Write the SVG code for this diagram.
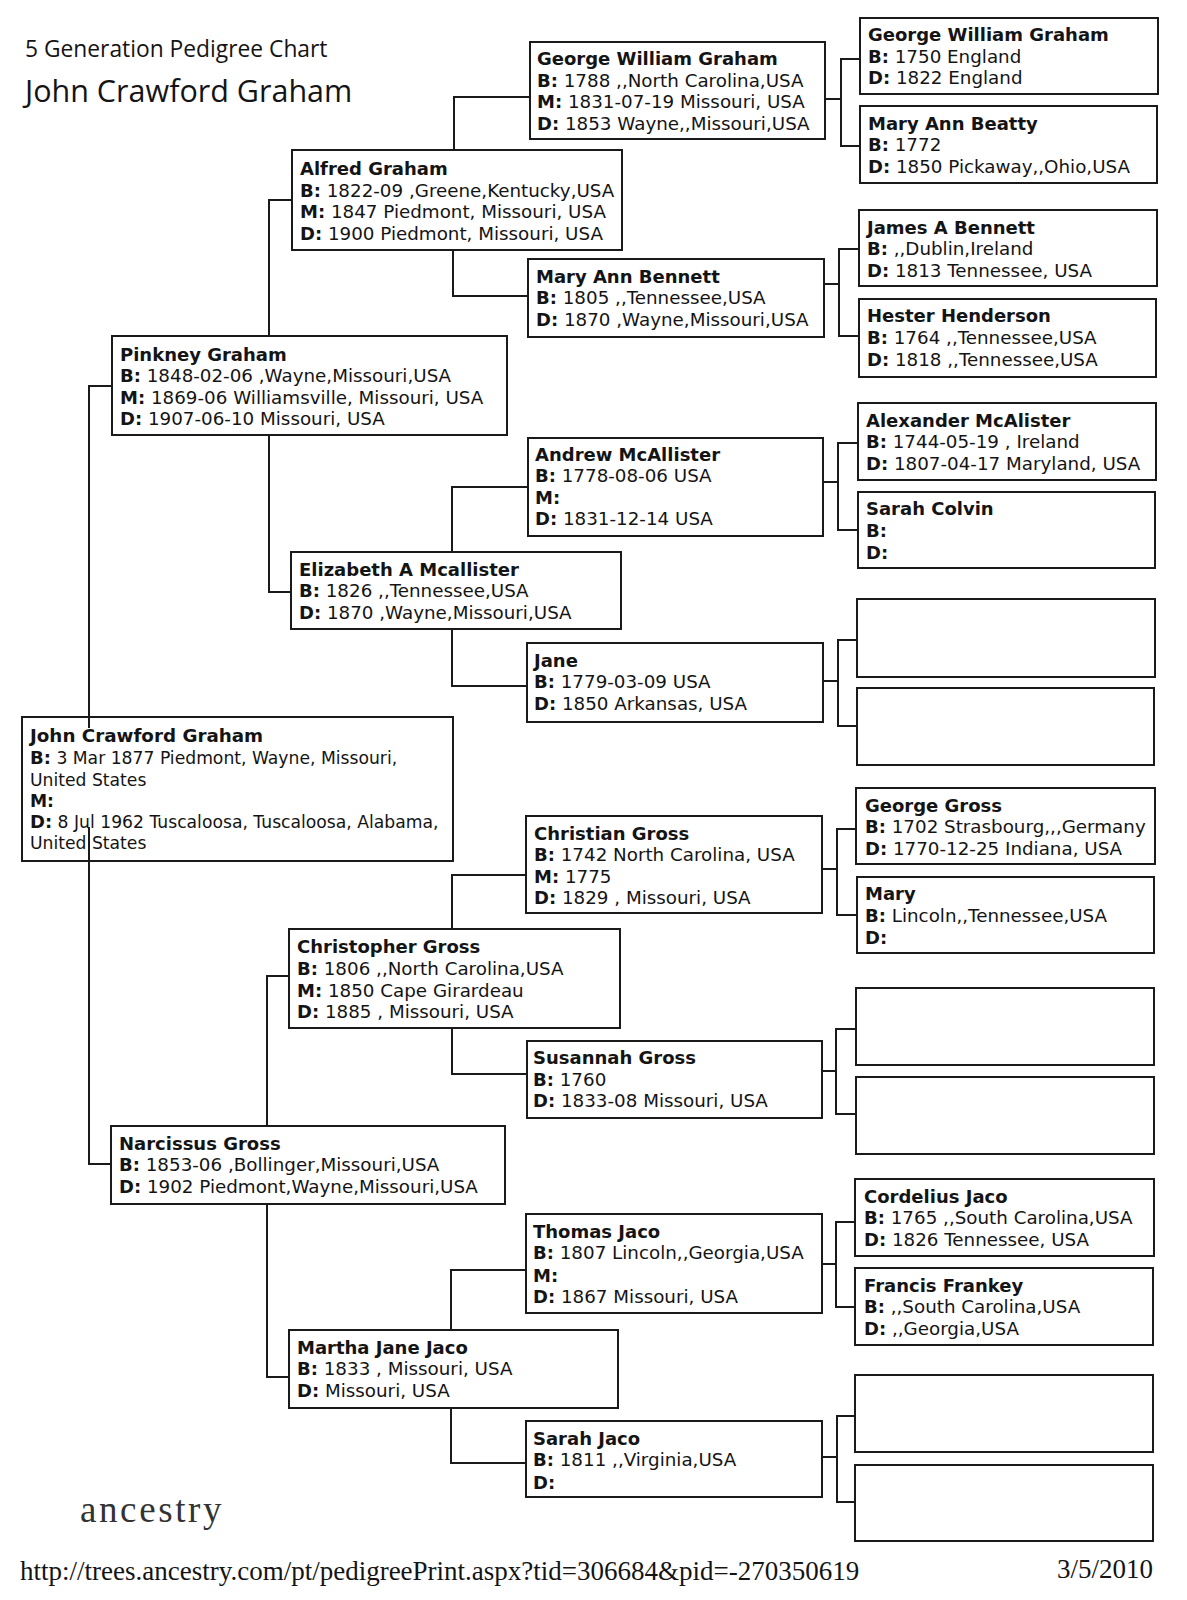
<svg xmlns="http://www.w3.org/2000/svg" width="1187" height="1600" viewBox="0 0 1187 1600">
<style>
text{font-family:"DejaVu Sans",Verdana,sans-serif;font-size:18.3px;fill:#141414}
.n{font-weight:bold;font-size:18px}
.l{font-weight:bold;font-size:18px}
#p1 text{font-size:17.2px}
#p1 .n{font-size:18.3px}
.h{font-family:"Open Sans","Noto Sans",sans-serif}
.s{font-family:"Liberation Serif",serif}
rect{fill:#fff;stroke:#1a1a1a;stroke-width:2}
#connectors path{fill:none;stroke:#1a1a1a;stroke-width:2}
</style>
<rect x="0" y="0" width="1187" height="1600" style="fill:#fff;stroke:none"/>
<text class="h" x="25" y="57" style="font-size:22.8px">5 Generation Pedigree Chart</text>
<text class="h" x="25" y="102" style="font-size:30.5px">John Crawford Graham</text>

<g id="p1"><rect x="22" y="717" width="431" height="144"/><text class="n" x="30" y="742">John Crawford Graham</text><text x="30" y="764"><tspan class="l">B:</tspan> 3 Mar 1877 Piedmont, Wayne, Missouri,</text><text x="30" y="786">United States</text><text x="30" y="807" class="l">M:</text><text x="30" y="828"><tspan class="l">D:</tspan> 8 Jul 1962 Tuscaloosa, Tuscaloosa, Alabama,</text><text x="30" y="849">United States</text></g>

<g id="p2"><rect x="112" y="336" width="395" height="99"/><text class="n" x="120" y="361">Pinkney Graham</text><text x="120" y="382"><tspan class="l">B:</tspan> 1848-02-06 ,Wayne,Missouri,USA</text><text x="120" y="404"><tspan class="l">M:</tspan> 1869-06 Williamsville, Missouri, USA</text><text x="120" y="425"><tspan class="l">D:</tspan> 1907-06-10 Missouri, USA</text></g>
<g id="p3"><rect x="111" y="1126" width="394" height="78"/><text class="n" x="119" y="1150">Narcissus Gross</text><text x="119" y="1171"><tspan class="l">B:</tspan> 1853-06 ,Bollinger,Missouri,USA</text><text x="119" y="1193"><tspan class="l">D:</tspan> 1902 Piedmont,Wayne,Missouri,USA</text></g>

<g id="p4"><rect x="292" y="150" width="330" height="100"/><text class="n" x="300" y="175">Alfred Graham</text><text x="300" y="197"><tspan class="l">B:</tspan> 1822-09 ,Greene,Kentucky,USA</text><text x="300" y="218"><tspan class="l">M:</tspan> 1847 Piedmont, Missouri, USA</text><text x="300" y="240"><tspan class="l">D:</tspan> 1900 Piedmont, Missouri, USA</text></g>
<g id="p5"><rect x="291" y="552" width="330" height="77"/><text class="n" x="299" y="576">Elizabeth A Mcallister</text><text x="299" y="597"><tspan class="l">B:</tspan> 1826 ,,Tennessee,USA</text><text x="299" y="619"><tspan class="l">D:</tspan> 1870 ,Wayne,Missouri,USA</text></g>
<g id="p6"><rect x="289" y="929" width="331" height="99"/><text class="n" x="297" y="953">Christopher Gross</text><text x="297" y="975"><tspan class="l">B:</tspan> 1806 ,,North Carolina,USA</text><text x="297" y="997"><tspan class="l">M:</tspan> 1850 Cape Girardeau</text><text x="297" y="1018"><tspan class="l">D:</tspan> 1885 , Missouri, USA</text></g>
<g id="p7"><rect x="289" y="1330" width="329" height="78"/><text class="n" x="297" y="1354">Martha Jane Jaco</text><text x="297" y="1375"><tspan class="l">B:</tspan> 1833 , Missouri, USA</text><text x="297" y="1397"><tspan class="l">D:</tspan> Missouri, USA</text></g>

<g id="p8"><rect x="530" y="42" width="295" height="97"/><text class="n" x="537" y="65">George William Graham</text><text x="537" y="87"><tspan class="l">B:</tspan> 1788 ,,North Carolina,USA</text><text x="537" y="108"><tspan class="l">M:</tspan> 1831-07-19 Missouri, USA</text><text x="537" y="130"><tspan class="l">D:</tspan> 1853 Wayne,,Missouri,USA</text></g>
<g id="p9"><rect x="528" y="259" width="296" height="78"/><text class="n" x="536" y="283">Mary Ann Bennett</text><text x="536" y="304"><tspan class="l">B:</tspan> 1805 ,,Tennessee,USA</text><text x="536" y="326"><tspan class="l">D:</tspan> 1870 ,Wayne,Missouri,USA</text></g>
<g id="p10"><rect x="528" y="438" width="295" height="98"/><text class="n" x="535" y="461">Andrew McAllister</text><text x="535" y="482"><tspan class="l">B:</tspan> 1778-08-06 USA</text><text x="535" y="504" class="l">M:</text><text x="535" y="525"><tspan class="l">D:</tspan> 1831-12-14 USA</text></g>
<g id="p11"><rect x="527" y="643" width="296" height="79"/><text class="n" x="534" y="667">Jane</text><text x="534" y="688"><tspan class="l">B:</tspan> 1779-03-09 USA</text><text x="534" y="710"><tspan class="l">D:</tspan> 1850 Arkansas, USA</text></g>
<g id="p12"><rect x="526" y="816" width="296" height="97"/><text class="n" x="534" y="840">Christian Gross</text><text x="534" y="861"><tspan class="l">B:</tspan> 1742 North Carolina, USA</text><text x="534" y="883"><tspan class="l">M:</tspan> 1775</text><text x="534" y="904"><tspan class="l">D:</tspan> 1829 , Missouri, USA</text></g>
<g id="p13"><rect x="527" y="1041" width="295" height="77"/><text class="n" x="533" y="1064">Susannah Gross</text><text x="533" y="1086"><tspan class="l">B:</tspan> 1760</text><text x="533" y="1107"><tspan class="l">D:</tspan> 1833-08 Missouri, USA</text></g>
<g id="p14"><rect x="526" y="1214" width="296" height="99"/><text class="n" x="533" y="1238">Thomas Jaco</text><text x="533" y="1259"><tspan class="l">B:</tspan> 1807 Lincoln,,Georgia,USA</text><text x="533" y="1282" class="l">M:</text><text x="533" y="1303"><tspan class="l">D:</tspan> 1867 Missouri, USA</text></g>
<g id="p15"><rect x="526" y="1421" width="296" height="76"/><text class="n" x="533" y="1445">Sarah Jaco</text><text x="533" y="1466"><tspan class="l">B:</tspan> 1811 ,,Virginia,USA</text><text x="533" y="1489" class="l">D:</text></g>

<g id="p16"><rect x="860" y="18" width="298" height="76"/><text class="n" x="868" y="41">George William Graham</text><text x="868" y="63"><tspan class="l">B:</tspan> 1750 England</text><text x="868" y="84"><tspan class="l">D:</tspan> 1822 England</text></g>
<g id="p17"><rect x="860" y="106" width="297" height="77"/><text class="n" x="868" y="130">Mary Ann Beatty</text><text x="868" y="151"><tspan class="l">B:</tspan> 1772</text><text x="868" y="173"><tspan class="l">D:</tspan> 1850 Pickaway,,Ohio,USA</text></g>
<g id="p18"><rect x="859" y="210" width="298" height="76"/><text class="n" x="867" y="234">James A Bennett</text><text x="867" y="255"><tspan class="l">B:</tspan> ,,Dublin,Ireland</text><text x="867" y="277"><tspan class="l">D:</tspan> 1813 Tennessee, USA</text></g>
<g id="p19"><rect x="859" y="299" width="297" height="78"/><text class="n" x="867" y="322">Hester Henderson</text><text x="867" y="344"><tspan class="l">B:</tspan> 1764 ,,Tennessee,USA</text><text x="867" y="366"><tspan class="l">D:</tspan> 1818 ,,Tennessee,USA</text></g>
<g id="p20"><rect x="858" y="403" width="298" height="77"/><text class="n" x="866" y="427">Alexander McAlister</text><text x="866" y="448"><tspan class="l">B:</tspan> 1744-05-19 , Ireland</text><text x="866" y="470"><tspan class="l">D:</tspan> 1807-04-17 Maryland, USA</text></g>
<g id="p21"><rect x="858" y="492" width="297" height="76"/><text class="n" x="866" y="515">Sarah Colvin</text><text x="866" y="537" class="l">B:</text><text x="866" y="559" class="l">D:</text></g>
<g id="p22"><rect x="857" y="599" width="298" height="78"/></g>
<g id="p23"><rect x="857" y="688" width="297" height="77"/></g>
<g id="p24"><rect x="856" y="788" width="299" height="76"/><text class="n" x="865" y="812">George Gross</text><text x="865" y="833"><tspan class="l">B:</tspan> 1702 Strasbourg,,,Germany</text><text x="865" y="855"><tspan class="l">D:</tspan> 1770-12-25 Indiana, USA</text></g>
<g id="p25"><rect x="857" y="877" width="297" height="76"/><text class="n" x="865" y="900">Mary</text><text x="865" y="922"><tspan class="l">B:</tspan> Lincoln,,Tennessee,USA</text><text x="865" y="944" class="l">D:</text></g>
<g id="p26"><rect x="856" y="988" width="298" height="77"/></g>
<g id="p27"><rect x="856" y="1077" width="298" height="77"/></g>
<g id="p28"><rect x="855" y="1179" width="299" height="77"/><text class="n" x="864" y="1203">Cordelius Jaco</text><text x="864" y="1224"><tspan class="l">B:</tspan> 1765 ,,South Carolina,USA</text><text x="864" y="1246"><tspan class="l">D:</tspan> 1826 Tennessee, USA</text></g>
<g id="p29"><rect x="855" y="1268" width="298" height="77"/><text class="n" x="864" y="1292">Francis Frankey</text><text x="864" y="1313"><tspan class="l">B:</tspan> ,,South Carolina,USA</text><text x="864" y="1335"><tspan class="l">D:</tspan> ,,Georgia,USA</text></g>
<g id="p30"><rect x="855" y="1375" width="298" height="77"/></g>
<g id="p31"><rect x="855" y="1465" width="298" height="76"/></g>

<g id="connectors">
<path d="M89 728V386H112M89 827V1164H111"/>
<path d="M269 336V200H292M269 435V592H291"/>
<path d="M267 1126V976H289M267 1204V1377H289"/>
<path d="M454 150V97H530M453 250V296H528"/>
<path d="M452 552V487H528M452 629V686H527"/>
<path d="M452 929V875H526M452 1028V1074H527"/>
<path d="M451 1330V1270H526M451 1408V1463H526"/>
<path d="M825 99H841M860 59H841V146H860"/>
<path d="M824 284H839M859 249H839V336H859"/>
<path d="M823 482H838M858 443H838V530H858"/>
<path d="M823 681H838M857 640H838V726H857"/>
<path d="M822 869H837M856 829H837V915H857"/>
<path d="M822 1071H836M856 1029H836V1114H856"/>
<path d="M822 1264H836M855 1222H836V1307H855"/>
<path d="M822 1457H837M855 1416H837V1502H855"/>
</g>

<text class="s" x="80" y="1522" style="font-size:37px;fill:#333;letter-spacing:2.6px">ancestry</text>
<text class="s" x="20" y="1580" style="font-size:27px">http://trees.ancestry.com/pt/pedigreePrint.aspx?tid=306684&amp;pid=-270350619</text>
<text class="s" x="1057" y="1578" style="font-size:27px">3/5/2010</text>
</svg>
